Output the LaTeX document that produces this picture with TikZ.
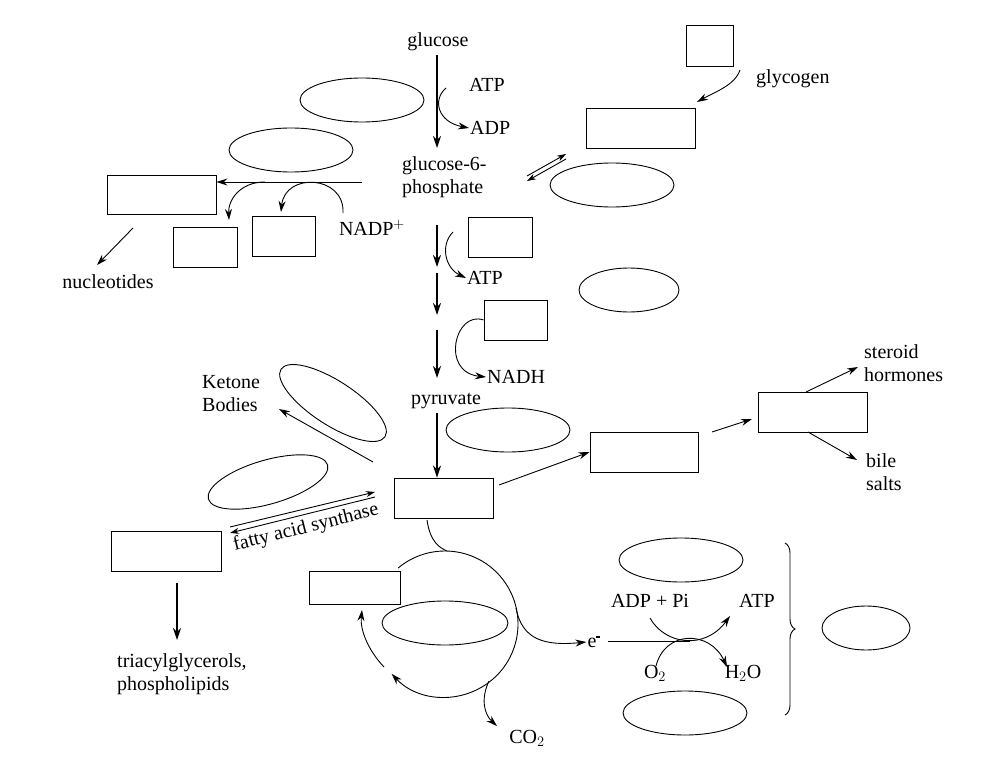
\documentclass[tikz,border=0pt]{standalone}
\usepackage{fontspec}
\setmainfont{Liberation Serif}
\usetikzlibrary{shapes.geometric,arrows.meta,decorations.pathreplacing}
\begin{document}
\begin{tikzpicture}[x=1pt,y=-1pt,
  every node/.style={font=\fontsize{20}{23}\selectfont},
  box/.style={draw,line width=0.9pt,inner sep=0pt},
  ell/.style={draw,ellipse,line width=0.9pt,minimum width=124pt,minimum height=44pt,inner sep=0pt},
  txt/.style={inner sep=1pt},
  ar/.style={line width=0.9pt,-{Stealth[length=11pt,width=7pt]}},
  arb/.style={line width=1.5pt,-{Stealth[length=12pt,width=8pt]}},
  ln/.style={line width=0.9pt}]
\useasboundingbox (0,0) rectangle (990,762);
\fill[white] (0,0) rectangle (990,762);
\newcommand{\bx}[5]{\node[box,minimum width=#4pt,minimum height=#5pt] (#1) at (#2,#3) {};}
% texts
\node[txt] (glc) at (438,42) {glucose};
\node[txt,anchor=west] (atp1) at (468,85) {ATP};
\node[txt,anchor=west] (adp1) at (469,128) {ADP};
\node[txt,align=left,anchor=west] (g6p) at (401,177) {glucose-6-\\phosphate};
\node[txt] (nadp) at (372,228) {NADP$^{+}$};
\node[txt] (nuc) at (108,282) {nucleotides};
\node[txt,anchor=west] (glyc) at (755,79) {glycogen};
\node[txt,anchor=west] (atp2) at (466,278) {ATP};
\node[txt,anchor=west] (nadh) at (486,377) {NADH};
\node[txt] (pyr) at (446,401) {pyruvate};
\node[txt,align=left,anchor=west] (ket) at (201,394) {Ketone\\Bodies};
\node[txt,align=left,anchor=west] (ster) at (863,363) {steroid\\hormones};
\node[txt,align=left,anchor=west] (bile) at (865,472) {bile\\salts};
\node[txt,rotate=14] (fas) at (306,528) {fatty acid synthase};
\node[txt,align=left,anchor=west] (tag) at (116,674) {triacylglycerols,\\phospholipids};
\node[txt] (co2) at (527,738) {CO$_2$};
\node[txt] (em) at (594,642) {e\raisebox{1ex}{\rule{4pt}{2pt}}};
\node[txt] (adppi) at (650,601) {ADP + Pi};
\node[txt] (atp3) at (757,601) {ATP};
\node[txt] (o2) at (655,673) {O$_2$};
\node[txt] (h2o) at (743,673) {H$_2$O};
% ellipses
\node[ell] (e1) at (362,100) {};
\node[ell] (e2) at (291,150) {};
\node[ell] (e3) at (612,185) {};
\node[ell,minimum width=100pt] (e4) at (629,290) {};
\node[ell,rotate=-33] (e5) at (333,403) {};
\node[ell] (e6) at (508,430) {};
\node[ell,rotate=16] (e7) at (268,482) {};
\node[ell,minimum width=126pt] (e8) at (445,623) {};
\node[ell] (e9) at (681,560) {};
\node[ell] (e10) at (685,713) {};
\node[ell,minimum width=88pt] (e11) at (866,628) {};
% boxes
\bx{bglyc}{709.5}{45.5}{47}{41}
\bx{bg1p}{640.5}{128}{109}{40}
\bx{bppp}{161.5}{194.5}{109}{39}
\bx{bs1}{205}{247}{64}{40}
\bx{bs2}{283.5}{236}{63}{40}
\bx{bk1}{500}{237}{64}{40}
\bx{bk2}{515.5}{320}{63}{40}
\bx{bacc}{443.5}{498}{99}{40}
\bx{bhmg}{644}{452}{108}{40}
\bx{bchol}{812.5}{412}{109}{40}
\bx{bfa}{166}{551}{110}{40}
\bx{boaa}{354.5}{587.5}{91}{33}
\coordinate (ppstart) at (362,182);
\coordinate (nadpc) at (343,213);
\coordinate (glyc0) at (740,70);
% glucose -> g6p
\draw[arb] (437,55) -- (437,148);
\draw[ar] (446,88) .. controls (432,100) and (438,122) .. (adp1.west);
% pentose phosphate
\draw[ln,-{Stealth[length=11pt,width=7pt]}] (ppstart) -- (bppp.east |- ppstart);
\draw[ar] (nadpc) .. controls (345,175) and (285,172) .. (281,212);
\draw[ar] (265,182) .. controls (240,182) and (228,200) .. (229,220);
\draw[ar] (133,228) -- (97,265);
% glycogen
\draw[ar] (glyc0) .. controls (735,85) and (715,92) .. (697,102);
\draw[ln,-{Stealth[length=9pt,width=6pt]}] (527,176) -- (566,154);
\draw[ln,-{Stealth[length=9pt,width=6pt]}] (566,159) -- (527,181);
% glycolysis
\draw[arb] (437,225) -- (437,267);
\draw[arb] (437,273) -- (437,315);
\draw[arb] (437,330) -- (437,378);
\draw[ar] (453,232) .. controls (440,245) and (445,268) .. (atp2.west);
\draw[ar] (bk2.west) .. controls (455,310) and (440,372) .. (nadh.west);
% pyruvate
\draw[arb] (437,413) -- (bacc.north -| 437,0);
\draw[ar] (499,485) -- (bhmg.west);
\draw[ar] (712,432) -- (752,419);
\draw[ar] (806,392) -- (858,367);
\draw[ar] (808,432) -- (857,460);
\draw[ar] (373,462) -- (279,409);
\draw[ln,-{Stealth[length=9pt,width=6pt]}] (230,527) -- (375,492);
\draw[ln,-{Stealth[length=9pt,width=6pt]}] (375,497) -- (230,533);
\draw[arb] (177,583) -- (177,640);
% TCA
\draw[ln] (427,520) .. controls (430,542) and (440,548) .. (447,551);
\draw[ar] (445,624) ++(230:73) arc (230:497:73);
\draw[ar] (384,667) .. controls (368,650) and (360,630) .. (362,610);
\draw[ar] (516,608) .. controls (522,640) and (545,646) .. (em.west);
\draw[ar] (489,681) .. controls (480,700) and (485,715) .. (497,726);
% ETC
\draw[ln] (em.east) ++(6,-1) -- (690,641);
\draw[ar] (650,618) .. controls (665,645) and (705,650) .. (730,616);
\draw[ar] (656,666) .. controls (665,630) and (710,630) .. (727,667);
\draw[ln,decorate,decoration={brace,amplitude=10pt}] (785,543) -- (785,715);
\end{tikzpicture}
\end{document}
